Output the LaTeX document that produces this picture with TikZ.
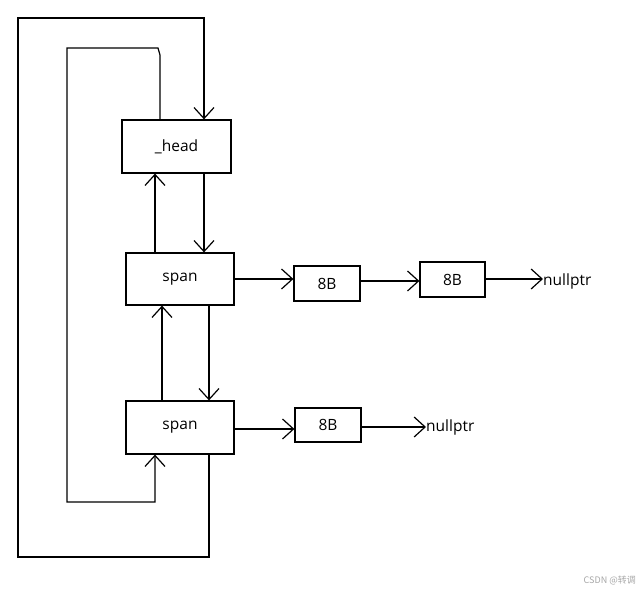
\documentclass[tikz,border=0pt]{standalone}
\usepackage{fontspec}
\setmainfont{Open Sans}
\newfontfamily\cjk{Noto Sans CJK SC}
\usetikzlibrary{arrows.meta}
\begin{document}
\begin{tikzpicture}[x=1pt,y=-1pt,
  box/.style={draw,line width=1.2pt,minimum height=0,inner sep=0,font=\fontsize{15.5}{18}\selectfont},
  ar/.style={line width=1.2pt,-{Straight Barb[length=11pt,width=20pt]}},
  txt/.style={font=\fontsize{15.5}{18}\selectfont,inner sep=0}]
\useasboundingbox (0,0) rectangle (641,593);
\node[box,minimum width=109pt,minimum height=53pt] (head) at (176.5,146.5) {\raisebox{-3pt}{\_head}};
\node[box,minimum width=108pt,minimum height=52pt] (s1) at (180,279) {\raisebox{-3pt}{span}};
\node[box,minimum width=108pt,minimum height=53pt] (s2) at (180,427.5) {\raisebox{-3pt}{span}};
\node[box,minimum width=66pt,minimum height=35pt] (b1) at (327,283.5) {8B};
\node[box,minimum width=65pt,minimum height=35pt] (b2) at (452.5,279.5) {8B};
\node[box,minimum width=66pt,minimum height=34pt] (b3) at (328,425) {8B};
\node[txt,anchor=west] (n1) at (543,281) {nullptr};
\node[txt,anchor=west] (n2) at (426,427) {nullptr};
\node[inner sep=0,text=gray!70,font=\cjk\fontsize{9}{10}\selectfont,anchor=east] (wm) at (636,581) {CSDN @转调};
% vertical links
\draw[ar] (head.south -| 204,0) -- (s1.north -| 204,0);
\draw[ar] (s1.north -| 155,0) -- (head.south -| 155,0);
\draw[ar] (s1.south -| 209,0) -- (s2.north -| 209,0);
\draw[ar] (s2.north -| 162,0) -- (s1.south -| 162,0);
% horizontal
\draw[ar] (s1.east |- 0,279) -- (b1.west |- 0,279);
\draw[ar] (b1.east |- 0,281) -- (b2.west |- 0,281);
\draw[ar] (b2.east |- 0,279) -- (n1.west |- 0,279);
\draw[ar] (s2.east |- 0,429) -- (b3.west |- 0,429);
\draw[ar] (b3.east |- 0,427) -- (n2.west |- 0,427);
% loops
\draw[ar] (s2.south -| 209,0) -- (209,557) -- (18,557) -- (18,18) -- (204,18) -- (head.north -| 204,0);
\draw[ar] (head.north -| 160,0) -- (160,55) -- (158,48) -- (67,48) -- (67,502) -- (155,502) -- (s2.south -| 155,0);
\end{tikzpicture}
\end{document}
